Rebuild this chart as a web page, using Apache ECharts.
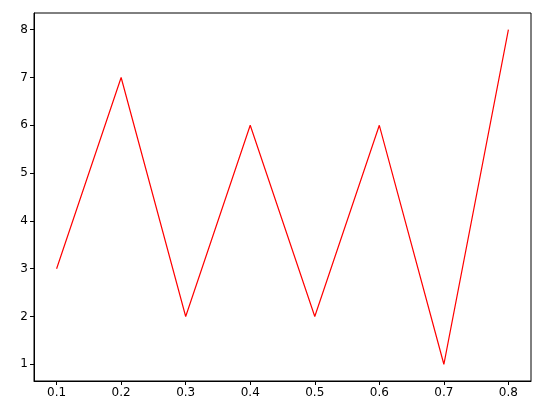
<!DOCTYPE html>
<html>
<head>
<meta charset="utf-8">
<script src="https://cdn.jsdelivr.net/npm/echarts@6/dist/echarts.min.js"></script>
<style>html,body{margin:0;padding:0;background:#fff;}#c{width:552px;height:415px;}</style>
</head>
<body>
<div id="c"></div>
<script>
const xValues = [0.1, 0.2, 0.3, 0.4, 0.5, 0.6, 0.7, 0.8];
const yValues = [3, 7, 2, 6, 2, 6, 1, 8];
const xTicks = [0.1, 0.2, 0.3, 0.4, 0.5, 0.6, 0.7, 0.8];
const yTicks = [1, 2, 3, 4, 5, 6, 7, 8];

const chart = echarts.init(document.getElementById('c'));
const font = {fontFamily: 'DejaVu Sans', fontSize: 12, color: '#000'};
chart.setOption({
  animation: false,
  grid: {left: 34, right: 21, top: 13, bottom: 34, show: true, borderColor: '#000', borderWidth: 1, containLabel: false},
  xAxis: {
    type: 'value', min: 0.065, max: 0.835,
    splitLine: {show: false},
    axisLine: {show: true, lineStyle: {color: '#000', width: 1}},
    axisTick: {show: true, inside: false, length: 4, lineStyle: {color: '#000'}, customValues: xTicks},
    axisLabel: Object.assign({margin: 6, customValues: xTicks, formatter: v => v.toFixed(1)}, font)
  },
  yAxis: {
    type: 'value', min: 0.65, max: 8.35,
    splitLine: {show: false},
    axisLine: {show: true, lineStyle: {color: '#000', width: 1}},
    axisTick: {show: true, inside: false, length: 4, lineStyle: {color: '#000'}, customValues: yTicks},
    axisLabel: Object.assign({margin: 6, customValues: yTicks, formatter: v => String(Math.round(v))}, font)
  },
  series: [{
    type: 'line',
    data: xValues.map((x, i) => [x, yValues[i]]),
    showSymbol: false,
    lineStyle: {color: '#ff0000', width: 1.2},
    itemStyle: {color: '#ff0000'}
  }]
});
</script>
</body>
</html>
